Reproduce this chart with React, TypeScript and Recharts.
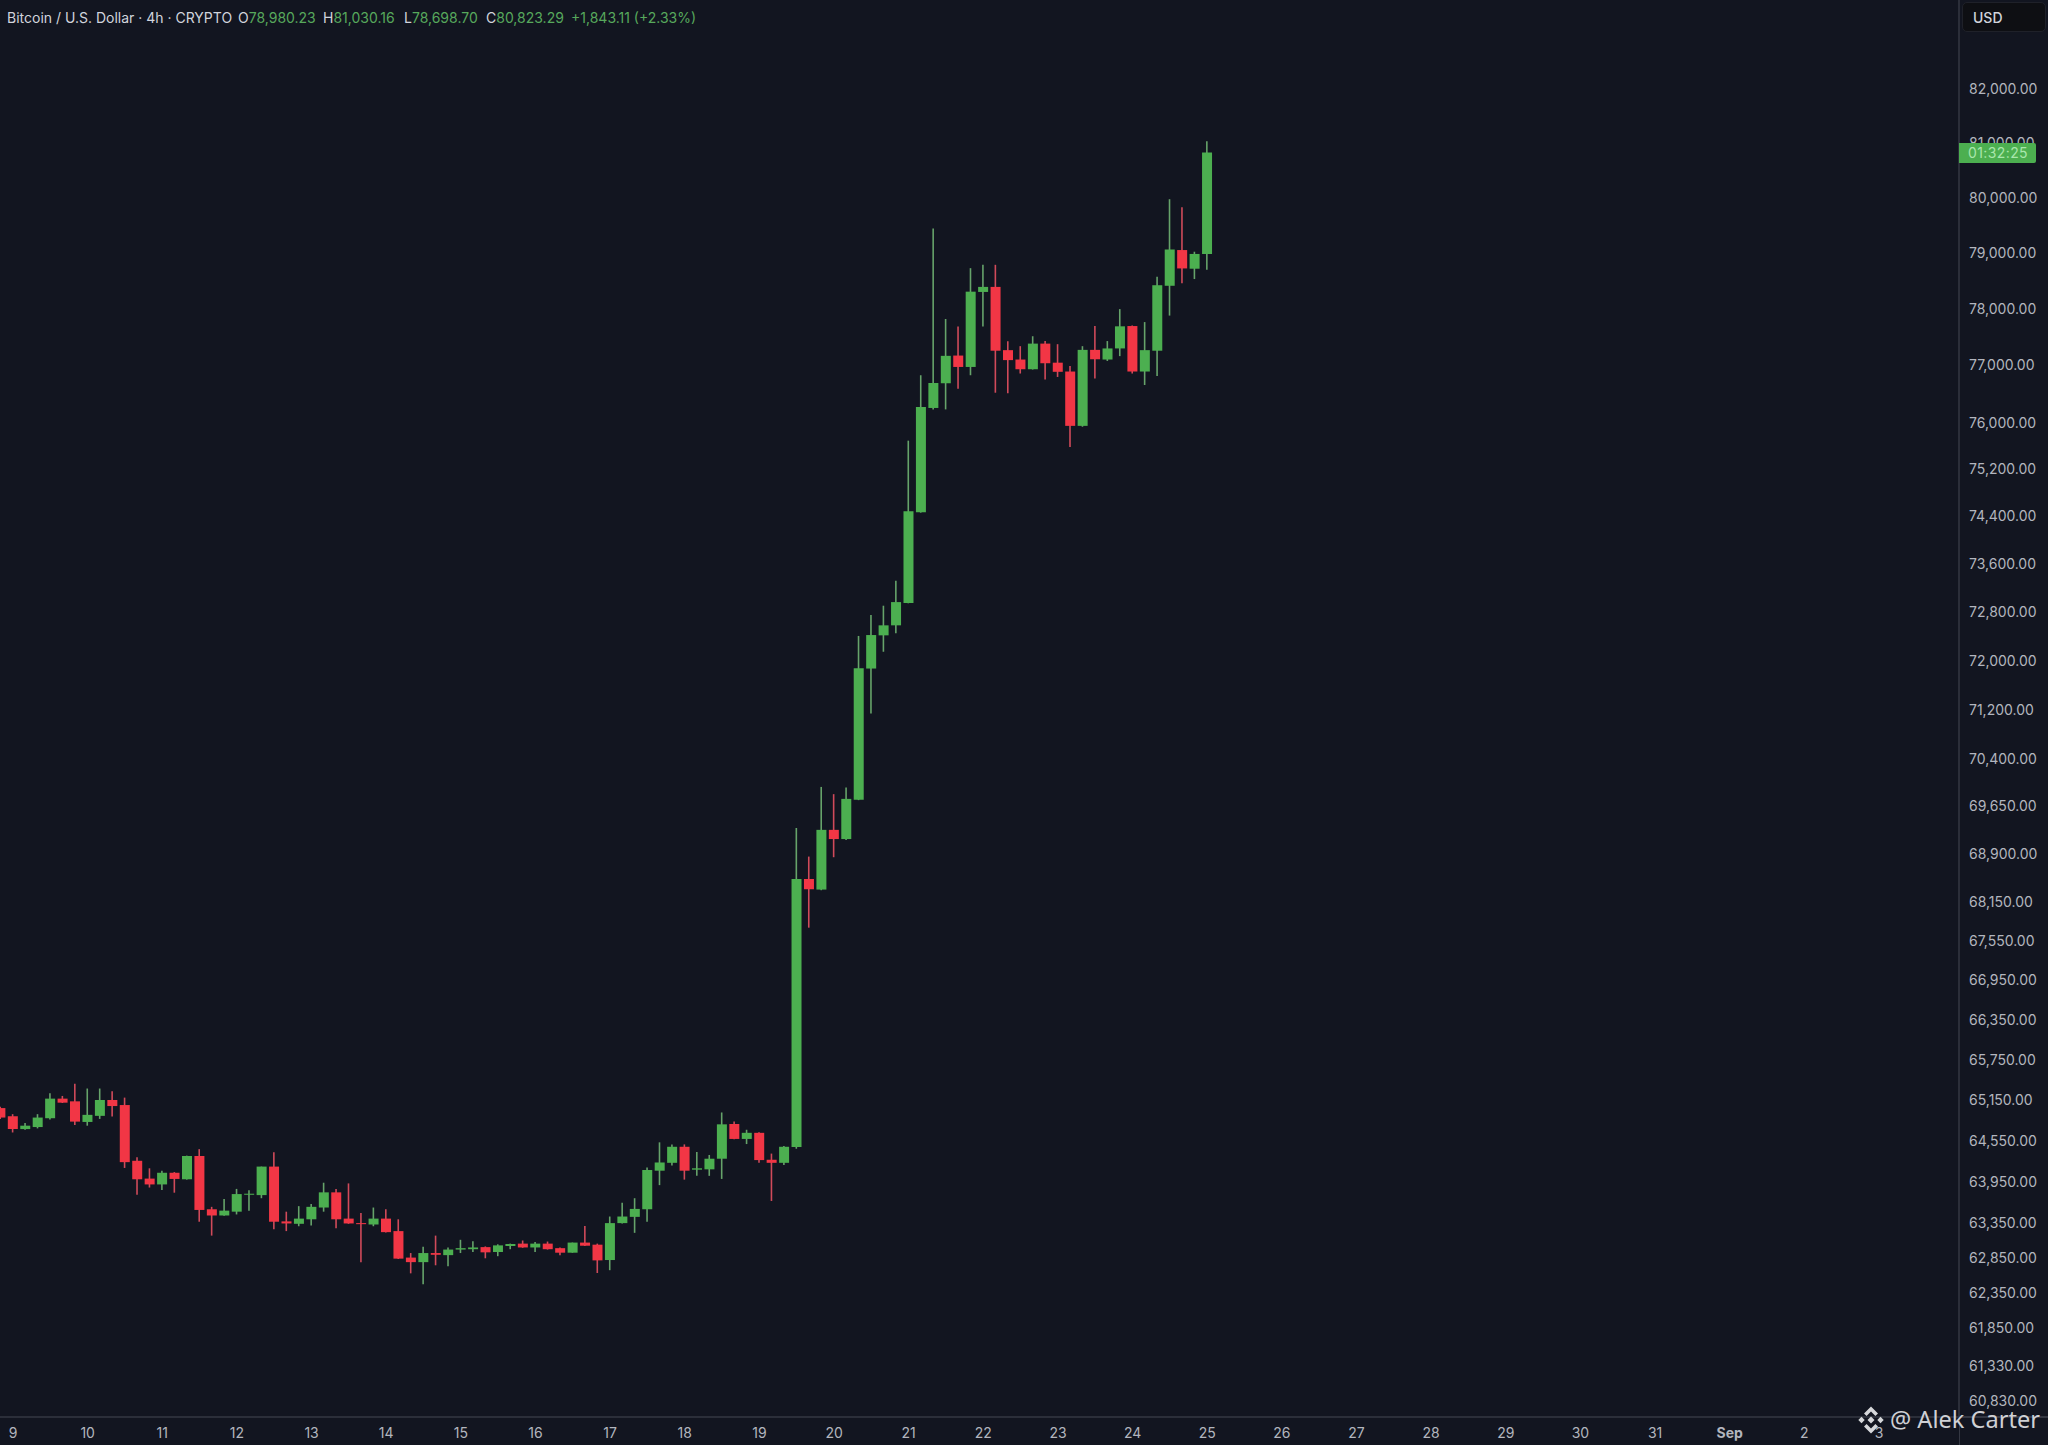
import { BarChart, Bar, XAxis, YAxis, Cell } from 'recharts';

const opens = [
  65030, 64910, 64720, 64750, 64880, 65170, 65130, 64825, 64915, 65150,
  65075, 64255, 63995, 63910, 64080, 63985, 64325, 63550, 63460, 63515,
  63760, 63755, 64170, 63375, 63340, 63405, 63575, 63795, 63415, 63350,
  63330, 63415, 63235, 62855, 62790, 62920, 62890, 62970, 62975, 63005,
  62935, 63020, 63055, 63000, 63055, 62990, 62925, 63070, 63040, 62820,
  63350, 63440, 63550, 64110, 64225, 64460, 64125, 64130, 64285, 64795,
  64575, 64665, 64270, 64225, 64455, 68510, 68345, 69280, 69135, 69755,
  71870, 72415, 72580, 72950, 74470, 76260, 76690, 77175, 76975, 78300,
  78390, 77270, 77105, 76935, 77385, 77050, 76895, 75950, 77275, 77105,
  77300, 77695, 76895, 77260, 78410, 79050, 78715, 78980.23,
];
const highs = [
  65050, 64940, 64810, 64940, 65250, 65210, 65390, 65320, 65320, 65280,
  65185, 64305, 64145, 64110, 64090, 64330, 64425, 63585, 63700, 63845,
  63825, 64170, 64380, 63515, 63595, 63625, 63935, 63845, 63925, 63495,
  63575, 63550, 63405, 62920, 63010, 63170, 63000, 63110, 63090, 63015,
  63045, 63055, 63100, 63080, 63085, 63000, 63070, 63310, 63055, 63445,
  63645, 63710, 64155, 64525, 64495, 64495, 64385, 64340, 64965, 64830,
  64710, 64675, 64360, 64470, 69310, 68860, 69960, 69845, 69950, 72405,
  72750, 72905, 73320, 75695, 76830, 79440, 77820, 77685, 78725, 78785,
  78785, 77425, 77340, 77515, 77430, 77375, 76990, 77340, 77695, 77430,
  77995, 77705, 77765, 78570, 79970, 79825, 79020, 81030.16,
];
const lows = [
  64870, 64670, 64710, 64730, 64860, 65105, 64780, 64770, 64870, 64905,
  64150, 63760, 63865, 63830, 63790, 63980, 63370, 63170, 63455, 63475,
  63530, 63710, 63260, 63235, 63305, 63315, 63515, 63275, 63340, 62790,
  63305, 63215, 62835, 62630, 62475, 62745, 62730, 62920, 62935, 62845,
  62875, 62975, 62995, 62935, 62970, 62890, 62925, 63020, 62635, 62675,
  63345, 63210, 63370, 63900, 64185, 63980, 64035, 64035, 63990, 64570,
  64500, 64225, 63670, 64195, 64430, 67755, 68335, 68850, 69120, 69750,
  71140, 72145, 72450, 72945, 74465, 76235, 76235, 76595, 76830, 77685,
  76525, 76515, 76860, 76930, 76755, 76800, 75585, 75935, 76775, 77080,
  77165, 76860, 76660, 76815, 77880, 78455, 78530, 78698.7,
];
const closes = [
  64890, 64720, 64770, 64890, 65170, 65110, 64830, 64930, 65150, 65060,
  64235, 63985, 63910, 64080, 63990, 64325, 63540, 63460, 63530, 63770,
  63775, 64170, 63370, 63345, 63415, 63585, 63795, 63405, 63345, 63335,
  63415, 63220, 62840, 62790, 62920, 62895, 62970, 62990, 63000, 62930,
  63030, 63050, 63000, 63055, 62975, 62925, 63070, 63025, 62815, 63350,
  63445, 63555, 64120, 64230, 64460, 64110, 64145, 64285, 64790, 64575,
  64665, 64265, 64225, 64460, 68510, 68350, 69280, 69135, 69770, 71875,
  72420, 72580, 72965, 74490, 76275, 76695, 77170, 76975, 78305, 78390,
  77260, 77095, 76935, 77385, 77040, 76890, 75950, 77275, 77110, 77300,
  77690, 76895, 77270, 78420, 79060, 78720, 78980, 80823.29,
];

const priceTicks = [
  82000, 81000, 80000, 79000, 78000, 77000, 76000, 75200, 74400, 73600, 72800, 72000, 71200,
  70400, 69650, 68900, 68150, 67550, 66950, 66350, 65750, 65150, 64550, 63950, 63350, 62850,
  62350, 61850, 61330, 60830,
];
const dayLabels = [
  '9', '10', '11', '12', '13', '14', '15', '16', '17', '18', '19', '20', '21', '22', '23', '24',
  '25', '26', '27', '28', '29', '30', '31', 'Sep', '2', '3',
];
// 4h candles, six to a day, first day tick sits on the second candle
const dayTicks = dayLabels.map((_, i) => 1 + i * 6);

const slotDomain = [-0.048, 157.43];
const priceDomain = [60616, 83678];

const UP = '#4caf50';
const DOWN = '#f23645';
const UP_WICK = '#66a36a';
const DOWN_WICK = '#d04a5a';
const BG = '#121520';
const LINE = '#343742';
const AXIS_TEXT = '#b2b5be';

const candles = opens.map((open, i) => ({
  slot: i,
  wick: [lows[i], highs[i]],
  body: [Math.min(open, closes[i]), Math.max(open, closes[i])],
  up: closes[i] >= open,
}));

const DayTick = ({ x, y, payload }: any) => {
  const label = dayLabels[dayTicks.indexOf(payload.value)];
  return (
    <text
      x={x}
      y={y + 13}
      textAnchor="middle"
      fill={AXIS_TEXT}
      fontFamily="Inter"
      fontSize={14}
      fontWeight={label === 'Sep' ? 700 : 400}
    >
      {label}
    </text>
  );
};

const Pair = ({ k, v, left }: { k: string; v: string; left: number }) => (
  <span style={{ position: 'absolute', left, whiteSpace: 'nowrap' }}>
    <span style={{ color: '#d1d4dc' }}>{k}</span>
    <span style={{ color: '#57a85c' }}>{v}</span>
  </span>
);

const Header = () => (
  <div style={{ position: 'absolute', left: 0, top: 8, height: 20, lineHeight: '20px', fontFamily: 'Inter', fontSize: 14 }}>
    <span style={{ position: 'absolute', left: 7, color: '#d1d4dc', whiteSpace: 'nowrap' }}>
      Bitcoin / U.S. Dollar · 4h · CRYPTO
    </span>
    <Pair k="O" v="78,980.23" left={238} />
    <Pair k="H" v="81,030.16" left={323} />
    <Pair k="L" v="78,698.70" left={404} />
    <Pair k="C" v="80,823.29" left={486} />
    <span style={{ position: 'absolute', left: 571, color: '#57a85c', whiteSpace: 'nowrap' }}>+1,843.11 (+2.33%)</span>
  </div>
);

const Watermark = () => (
  <>
    <svg width={28} height={28} viewBox="0 0 28 28" style={{ position: 'absolute', left: 1857, top: 1406 }}>
      <g fill="#d6d7da">
        <path d="M14 10.5 L17.5 14 L14 17.5 L10.5 14 Z" />
        <path d="M4.5 10.8 L7.7 14 L4.5 17.2 L1.3 14 Z" />
        <path d="M23.5 10.8 L26.7 14 L23.5 17.2 L20.3 14 Z" />
        <path d="M14 0.5 L21 7.5 L18.4 10 L14 5.6 L9.6 10 L7 7.5 Z" />
        <path d="M14 27.5 L7 20.5 L9.6 18 L14 22.4 L18.4 18 L21 20.5 Z" />
      </g>
    </svg>
    <div
      style={{
        position: 'absolute',
        left: 1890,
        top: 1402,
        fontFamily: 'Noto Sans',
        fontSize: 23.6,
        lineHeight: '34px',
        color: '#cfd0d4',
        whiteSpace: 'nowrap',
      }}
    >
      @ Alek Carter
    </div>
  </>
);

const App = () => {
  return (
    <div style={{ position: 'absolute', left: 0, top: 0, width: 2048, height: 1445, background: BG, overflow: 'hidden' }}>
      <BarChart width={2048} height={1445} data={candles} margin={{ top: 0, right: 0, bottom: 0, left: 0 }}>
        <XAxis
          xAxisId="body"
          type="number"
          dataKey="slot"
          scale="linear"
          domain={slotDomain}
          allowDataOverflow
          ticks={dayTicks}
          height={0}
          hide
        />
        <XAxis
          xAxisId="wick"
          type="number"
          dataKey="slot"
          scale="linear"
          domain={slotDomain}
          allowDataOverflow
          ticks={dayTicks}
          interval={0}
          height={28}
          tickLine={false}
          axisLine={{ stroke: LINE, strokeWidth: 1.5 }}
          tick={<DayTick />}
        />
        <YAxis
          orientation="right"
          width={89}
          scale="log"
          domain={priceDomain}
          allowDataOverflow
          ticks={priceTicks}
          interval={0}
          tickLine={false}
          tickSize={0}
          tickMargin={10}
          axisLine={{ stroke: LINE, strokeWidth: 1.5 }}
          tick={{ fill: AXIS_TEXT, fontSize: 14, fontFamily: 'Inter' }}
          tickFormatter={(v: number) => v.toLocaleString('en-US', { minimumFractionDigits: 2 })}
        />
        <Bar xAxisId="wick" dataKey="wick" barSize={1.6} isAnimationActive={false}>
          {candles.map((c) => (
            <Cell key={c.slot} fill={c.up ? UP_WICK : DOWN_WICK} />
          ))}
        </Bar>
        <Bar xAxisId="body" dataKey="body" barSize={10} isAnimationActive={false}>
          {candles.map((c) => (
            <Cell key={c.slot} fill={c.up ? UP : DOWN} />
          ))}
        </Bar>
      </BarChart>

      {/* axis lines run on past the plot area */}
      <div style={{ position: 'absolute', left: 1959, top: 1416, width: 89, height: 1.5, background: LINE }} />
      <div style={{ position: 'absolute', left: 1958.5, top: 1416, width: 1.5, height: 29, background: LINE }} />

      <Header />

      <div
        style={{
          position: 'absolute',
          left: 1962,
          top: 2,
          width: 84,
          height: 30,
          boxSizing: 'border-box',
          background: '#0e0f13',
          border: '1px solid #1f2129',
          borderRadius: 5,
          padding: '0 10px',
          lineHeight: '29px',
          fontFamily: 'Inter',
          fontSize: 14,
          fontWeight: 500,
          color: '#d1d4dc',
        }}
      >
        USD
      </div>

      {/* countdown tag on the last price */}
      <div
        style={{
          position: 'absolute',
          left: 1959,
          top: 143,
          width: 77,
          height: 20,
          background: UP,
          borderRadius: '0 2px 2px 0',
          lineHeight: '20px',
          paddingLeft: 9,
          boxSizing: 'border-box',
          fontFamily: 'Inter',
          fontSize: 14,
          letterSpacing: 0.4,
          color: '#a9e6ac',
        }}
      >
        01:32:25
      </div>

      <Watermark />
    </div>
  );
};

export default App;
